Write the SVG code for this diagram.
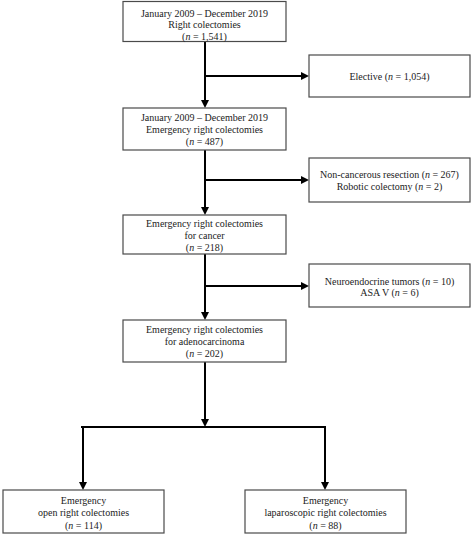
<svg xmlns="http://www.w3.org/2000/svg" width="474" height="535" viewBox="0 0 474 535">
<style>
.box{fill:#fff;stroke:#4a4a4a;stroke-width:1.2}
.t{font-family:"Liberation Serif","Times New Roman",serif;font-size:10px;fill:#222;text-anchor:middle}
.c{fill:none;stroke:#000;stroke-width:2}
</style>
<defs>
<marker id="ah" markerUnits="userSpaceOnUse" markerWidth="9" markerHeight="9" refX="2" refY="4" orient="auto">
<path d="M0,0 L8,4 L0,8 z" fill="#000"/>
</marker>
</defs>
<rect width="474" height="535" fill="#fff"/>
<g id="connectors">
<path class="c" d="M205,41 V102" marker-end="url(#ah)"/>
<path class="c" d="M205,76 H303" marker-end="url(#ah)"/>
<path class="c" d="M205,150 V209" marker-end="url(#ah)"/>
<path class="c" d="M205,180 H303" marker-end="url(#ah)"/>
<path class="c" d="M205,254 V314" marker-end="url(#ah)"/>
<path class="c" d="M205,286 H303" marker-end="url(#ah)"/>
<path class="c" d="M205,362 V421" marker-end="url(#ah)"/>
<path class="c" d="M82,428 V427 H325 V428"/>
<path class="c" d="M83,427 V484" marker-end="url(#ah)"/>
<path class="c" d="M325,427 V484" marker-end="url(#ah)"/>
</g>
<g id="n1">
<rect class="box" x="123" y="1.5" width="163" height="40"/>
<text class="t" x="204.5" y="16.5">January 2009 – December 2019</text>
<text class="t" x="204.5" y="28">Right colectomies</text>
<text class="t" x="204.5" y="39.5">(<tspan font-style="italic">n</tspan> = 1,541)</text>
</g>
<g id="n_elective">
<rect class="box" x="309" y="55" width="161" height="42"/>
<text class="t" x="389.5" y="79.5">Elective (<tspan font-style="italic">n</tspan> = 1,054)</text>
</g>
<g id="n2">
<rect class="box" x="123" y="108" width="163" height="42"/>
<text class="t" x="204.5" y="120.5">January 2009 – December 2019</text>
<text class="t" x="204.5" y="132.5">Emergency right colectomies</text>
<text class="t" x="204.5" y="144.5">(<tspan font-style="italic">n</tspan> = 487)</text>
</g>
<g id="n_noncancer">
<rect class="box" x="309" y="158" width="161" height="44"/>
<text class="t" x="389.5" y="178">Non-cancerous resection (<tspan font-style="italic">n</tspan> = 267)</text>
<text class="t" x="389.5" y="189.5">Robotic colectomy (<tspan font-style="italic">n</tspan> = 2)</text>
</g>
<g id="n3">
<rect class="box" x="123" y="215" width="163" height="39"/>
<text class="t" x="204.5" y="227">Emergency right colectomies</text>
<text class="t" x="204.5" y="239">for cancer</text>
<text class="t" x="204.5" y="251">(<tspan font-style="italic">n</tspan> = 218)</text>
</g>
<g id="n_neuro">
<rect class="box" x="309" y="264" width="161" height="43"/>
<text class="t" x="389.5" y="284.5">Neuroendocrine tumors (<tspan font-style="italic">n</tspan> = 10)</text>
<text class="t" x="389.5" y="296">ASA V (<tspan font-style="italic">n</tspan> = 6)</text>
</g>
<g id="n4">
<rect class="box" x="123" y="320" width="163" height="42"/>
<text class="t" x="204.5" y="333">Emergency right colectomies</text>
<text class="t" x="204.5" y="345">for adenocarcinoma</text>
<text class="t" x="204.5" y="357">(<tspan font-style="italic">n</tspan> = 202)</text>
</g>
<g id="n_open">
<rect class="box" x="3" y="490" width="161" height="43"/>
<text class="t" x="83.5" y="503.5">Emergency</text>
<text class="t" x="83.5" y="516">open right colectomies</text>
<text class="t" x="83.5" y="528.5">(<tspan font-style="italic">n</tspan> = 114)</text>
</g>
<g id="n_lap">
<rect class="box" x="245" y="490" width="161" height="43"/>
<text class="t" x="325.5" y="503.5">Emergency</text>
<text class="t" x="325.5" y="516">laparoscopic right colectomies</text>
<text class="t" x="325.5" y="528.5">(<tspan font-style="italic">n</tspan> = 88)</text>
</g>
</svg>
